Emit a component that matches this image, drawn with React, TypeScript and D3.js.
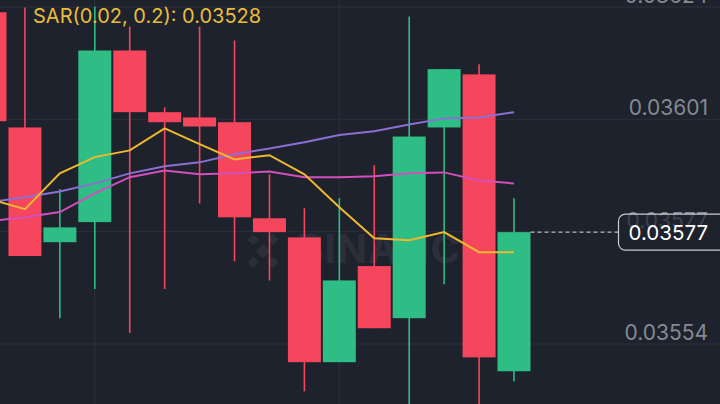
import React from "react";
import * as d3 from "d3";

// candle data, oldest first (last candle is the live one)
const opens = [0.036234, 0.035993, 0.035753, 0.035795, 0.036154, 0.036025, 0.036014, 0.036004, 0.035803, 0.035763, 0.035502, 0.035703, 0.035594, 0.035993, 0.036104, 0.035483];
const highs = [0.036270, 0.036244, 0.035864, 0.036246, 0.036204, 0.036035, 0.036204, 0.036175, 0.035895, 0.035824, 0.035845, 0.035914, 0.036225, 0.036115, 0.036125, 0.035845];
const lows = [0.035980, 0.035724, 0.035594, 0.035655, 0.035563, 0.035655, 0.035834, 0.035713, 0.035673, 0.035441, 0.035502, 0.035573, 0.035402, 0.035665, 0.035402, 0.035462];
const closes = [0.036006, 0.035724, 0.035784, 0.036154, 0.036025, 0.036004, 0.035995, 0.035805, 0.035774, 0.035502, 0.035673, 0.035573, 0.035974, 0.036115, 0.035512, 0.035774];

// indicator lines
const maYellow = [0.035843, 0.035822, 0.035897, 0.035931, 0.035945, 0.035991, 0.035958, 0.035926, 0.035935, 0.035895, 0.035826, 0.035761, 0.035757, 0.035774, 0.035732, 0.035732];
const maPurple = [0.035837, 0.035847, 0.035859, 0.035876, 0.035897, 0.035912, 0.035920, 0.035937, 0.035949, 0.035962, 0.035977, 0.035985, 0.035999, 0.036012, 0.036014, 0.036025];
const maPink = [0.035797, 0.035805, 0.035816, 0.035855, 0.035889, 0.035903, 0.035895, 0.035897, 0.035901, 0.035889, 0.035889, 0.035891, 0.035897, 0.035899, 0.035882, 0.035876];

const tickValues = [0.036245, 0.03601, 0.035775, 0.03554];
const tickLabels = ["0.03624", "0.03601", "0.03577", "0.03554"];
const vGridIdx = [3, 10];
const sarLabel = "SAR(0.02, 0.2): 0.03528";

const W = 720;
const H = 404;
const GREEN = "#2ebd85";
const RED = "#f6465d";
const BG = "#1e222d";
const GRID = "#2b303b";
const FONT = "Inter, 'Noto Sans', sans-serif";

export default function App() {
  const x = d3.scaleLinear().domain([0, 15]).range([-10, 514]);
  const y = d3.scaleLinear().domain([0.03554, 0.036245]).range([344, 7]);
  const bodyW = 33;

  const line = d3
    .line<number>()
    .x((_, i) => x(i))
    .y((d) => y(d));

  const last = closes[closes.length - 1];
  const lastY = y(last);
  const lastX = x(closes.length - 1) + bodyW / 2;

  return (
    <div style={{ position: "fixed", left: 0, top: 0 }}>
      <svg width={W} height={H} style={{ display: "block", background: BG }}>
        <rect width={W} height={H} fill={BG} />

        {/* grid */}
        {tickValues.map((t) => (
          <line key={t} x1={0} x2={W} y1={y(t)} y2={y(t)} stroke={GRID} strokeWidth={1} />
        ))}
        {vGridIdx.map((i) => (
          <line key={i} x1={x(i)} x2={x(i)} y1={0} y2={H} stroke={GRID} strokeWidth={1} />
        ))}

        {/* watermark */}
        <g opacity={0.06} fill="#ffffff">
          <g transform="translate(263,251) rotate(45)">
            <rect x={-5} y={-5} width={10} height={10} />
            <rect x={-19} y={-5} width={8} height={8} />
            <rect x={11} y={-3} width={8} height={8} />
            <rect x={-5} y={-19} width={8} height={8} />
            <rect x={-3} y={11} width={8} height={8} />
          </g>
          <text x={297} y={263} fontFamily={FONT} fontWeight={700} fontSize={40} letterSpacing={1}>
            BINANCE
          </text>
        </g>

        {/* candles */}
        {opens.map((o, i) => {
          const c = closes[i];
          const up = c >= o;
          const col = up ? GREEN : RED;
          const top = y(Math.max(o, c));
          const bot = y(Math.min(o, c));
          return (
            <g key={i}>
              <line x1={x(i)} x2={x(i)} y1={y(highs[i])} y2={y(lows[i])} stroke={col} strokeWidth={1.6} />
              <rect x={x(i) - bodyW / 2} y={top} width={bodyW} height={Math.max(1, bot - top)} fill={col} />
            </g>
          );
        })}

        {/* indicator lines */}
        <path d={line(maPurple) || ""} fill="none" stroke="#8c6fd3" strokeWidth={2} />
        <path d={line(maPink) || ""} fill="none" stroke="#d24fbc" strokeWidth={2} />
        <path d={line(maYellow) || ""} fill="none" stroke="#efb92e" strokeWidth={2} />

        {/* price axis labels */}
        {tickValues.map((t, i) => (
          <text key={t} x={708} y={y(t) - 4} textAnchor="end" fontFamily={FONT} fontSize={21} fill="#848a94">
            {tickLabels[i]}
          </text>
        ))}

        {/* last price */}
        <line x1={lastX} x2={618} y1={lastY} y2={lastY} stroke="#d8dbe0" strokeWidth={1} strokeDasharray="4 3" />
        <rect x={618.5} y={lastY - 18} width={110} height={36} rx={7} fill={BG} fillOpacity={0.7} stroke="#c9ccd2" strokeWidth={1.2} />
        <text x={708} y={lastY + 8} textAnchor="end" fontFamily={FONT} fontSize={20.5} fill="#ffffff">
          {d3.format(".5f")(last)}
        </text>

        <text x={33} y={23} fontFamily={FONT} fontSize={20} fill="#e9bd3c">
          {sarLabel}
        </text>
      </svg>
    </div>
  );
}
